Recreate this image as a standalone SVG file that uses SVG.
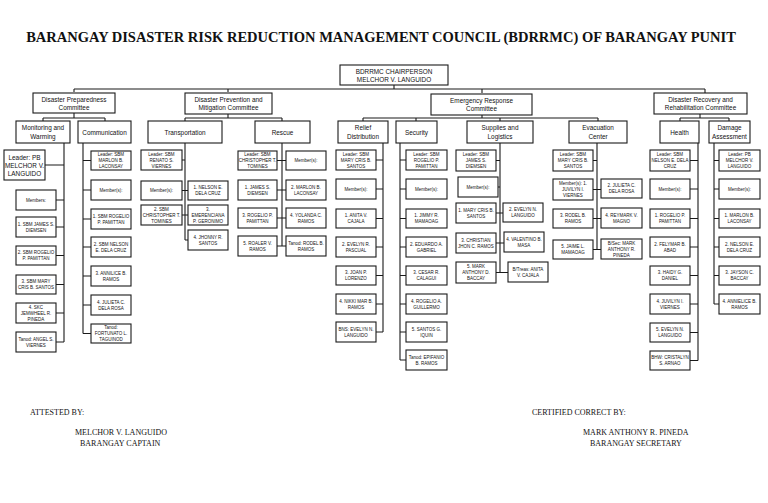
<svg xmlns="http://www.w3.org/2000/svg" width="768" height="503" viewBox="0 0 768 503">
<style>
rect{fill:#fff;stroke:#1a1a1a;stroke-width:1.1}
text{font-family:"Liberation Sans",Arial,sans-serif;fill:#111;text-anchor:middle}
.s{font-size:4.5px}
.m{font-size:7px}
.l{font-size:6.4px}
.t{font-family:"Liberation Serif","Times New Roman",serif;font-weight:bold;font-size:14.5px}
.f{font-family:"Liberation Serif","Times New Roman",serif;font-size:8px;text-anchor:start}
#c path{fill:none;stroke:#1a1a1a;stroke-width:1.1}
</style>
<rect x="0" y="0" width="768" height="503" style="stroke:none"/>
<text class="t" x="381" y="42">BARANGAY DISASTER RISK REDUCTION MANAGEMENT COUNCIL (BDRRMC) OF BARANGAY PUNIT</text>
<g id="c">
<path d="M394 85V89M74 89H705M74 89V92M228 89V92M482 89V93M705 89V93"/>
<path d="M74 113V118M43 118H105M43 118V121M105 118V121"/>
<path d="M228 114V118M185 118H282M185 118V121M282 118V121"/>
<path d="M482 115V118M363 118H598M363 118V121M416 118V121M500 118V121M598 118V121"/>
<path d="M700 114V118M680 118H729M680 118V121M729 118V121"/>
<path d="M64 143V342M45 165H64M56 200H64M56 227H64M56 255.5H64M56 284.5H64M56 313H64M56 342H64"/>
<path d="M83 143V333.5M83 160.5H91M83 190H91M83 219H91M83 247H91M83 276H91M83 305H91M83 333.5H91"/>
<path d="M185 143V240M182 160H185M182 190.5H188M182 215H188M185 240H188"/>
<path d="M282 143V246M277 160.5H286M277 190H286M277 218H286M277 246H286"/>
<path d="M383 143V332M376 160H383M376 189H383M376 218.5H383M376 247H383M376 275.5H383M376 304H383M376 332H383"/>
<path d="M400 143V360M400 160H406M400 189H406M400 218.5H406M400 247H406M400 275.5H406M400 304H406M400 332H406M400 360H406"/>
<path d="M500 143V272.5M496 160.5H500M498 187H500M496 213H503M496 243H504M496 272.5H508"/>
<path d="M597 143V249.5M593 160.5H597M593 189.5H601M593 218.5H601M593 249.5H601"/>
<path d="M698 143V360.5M690 160.5H698M690 189H698M690 218.5H698M690 247H698M690 275.5H698M690 304H698M690 332.5H698M690 360.5H698"/>
<path d="M714 143V304M714 160.5H719M714 189H719M714 218.5H719M714 247H719M714 275.5H719M714 304H719"/>
</g>
<g id="chair"><rect x="340" y="65" width="108" height="20"/><text class="l" x="394" y="73.5">BDRRMC CHAIRPERSON</text><text class="l" x="394" y="81.5">MELCHOR V. LANGUIDO</text></g>
<g id="prep"><rect x="33" y="93" width="82" height="20"/><text class="l" x="74" y="101.5">Disaster Preparedness</text><text class="l" x="74" y="109.5">Committee</text></g>
<g id="prev"><rect x="185" y="93" width="87" height="21"/><text class="l" x="228.5" y="101.5">Disaster Prevention and</text><text class="l" x="228.5" y="110">Mitigation Committee</text></g>
<g id="emer"><rect x="431" y="94" width="101" height="21"/><text class="l" x="481.5" y="102.5">Emergency Response</text><text class="l" x="481.5" y="111">Committee</text></g>
<g id="recov"><rect x="654" y="93" width="93" height="21"/><text class="l" x="700.5" y="101.5">Disaster Recovery and</text><text class="l" x="700.5" y="110">Rehabilitation Committee</text></g>
<g id="monitor"><rect x="16" y="121" width="54" height="22"/><text class="l" x="43" y="130">Monitoring and</text><text class="l" x="43" y="138.5">Warming</text></g>
<g id="comm"><rect x="78" y="121" width="53" height="22"/><text class="l" x="104.5" y="134.5">Communication</text></g>
<g id="trans"><rect x="148" y="121" width="74" height="22"/><text class="l" x="185" y="134.5">Transportation</text></g>
<g id="rescue"><rect x="255" y="121" width="55" height="22"/><text class="l" x="282.5" y="134.5">Rescue</text></g>
<g id="relief"><rect x="338" y="121" width="50" height="22"/><text class="l" x="363" y="130">Relief</text><text class="l" x="363" y="138.5">Distribution</text></g>
<g id="security"><rect x="396" y="121" width="41" height="22"/><text class="l" x="416.5" y="134.5">Security</text></g>
<g id="supplies"><rect x="467" y="121" width="66" height="22"/><text class="l" x="500" y="130">Supplies and</text><text class="l" x="500" y="138.5">Logistics</text></g>
<g id="evac"><rect x="569" y="121" width="58" height="22"/><text class="l" x="598" y="130">Evacuation</text><text class="l" x="598" y="138.5">Center</text></g>
<g id="health"><rect x="660" y="121" width="39" height="22"/><text class="l" x="679.5" y="134.5">Health</text></g>
<g id="damage"><rect x="709" y="121" width="41" height="22"/><text class="l" x="729.5" y="130">Damage</text><text class="l" x="729.5" y="138.5">Assessment</text></g>

<g id="mw0"><rect x="4" y="150" width="41" height="30"/><text class="l" x="24.5" y="159.5">Leader: PB</text><text class="l" x="24.5" y="167.5">MELCHOR V.</text><text class="l" x="24.5" y="175.5">LANGUIDO</text></g>
<g id="mw1"><rect x="16" y="190" width="40" height="20"/><text class="s" x="36" y="201.6">Members:</text></g>
<g id="mw2"><rect x="16" y="217" width="40" height="20"/><text class="s" x="36" y="225.6">1. SBM JAMES S.</text><text class="s" x="36" y="231.6">DIEMSEN</text></g>
<g id="mw3"><rect x="16" y="246" width="40" height="19"/><text class="s" x="36" y="254.1">2. SBM ROGELIO</text><text class="s" x="36" y="260.1">P. PAMITTAN</text></g>
<g id="mw4"><rect x="16" y="275" width="40" height="19"/><text class="s" x="36" y="283.1">3. SBM MARY</text><text class="s" x="36" y="289.1">CRIS B. SANTOS</text></g>
<g id="mw5"><rect x="16" y="303" width="40" height="20"/><text class="s" x="36" y="308.6">4. SKC</text><text class="s" x="36" y="314.6">JEMWHEEL R.</text><text class="s" x="36" y="320.6">PINEDA</text></g>
<g id="mw6"><rect x="16" y="332" width="40" height="20"/><text class="s" x="36" y="340.6">Tanod: ANGEL S.</text><text class="s" x="36" y="346.6">VIERNES</text></g>

<g id="cm0"><rect x="91" y="151" width="40" height="19"/><text class="s" x="111" y="156.1">Leader: SBM</text><text class="s" x="111" y="162.1">MARLON B.</text><text class="s" x="111" y="168.1">LACONSAY</text></g>
<g id="cm1"><rect x="91" y="180" width="40" height="20"/><text class="s" x="111" y="191.6">Member(s):</text></g>
<g id="cm2"><rect x="91" y="209" width="40" height="20"/><text class="s" x="111" y="217.6">1. SBM ROGELIO</text><text class="s" x="111" y="223.6">P. PAMITTAN</text></g>
<g id="cm3"><rect x="91" y="237" width="40" height="20"/><text class="s" x="111" y="245.6">2. SBM NELSON</text><text class="s" x="111" y="251.6">E. DELA CRUZ</text></g>
<g id="cm4"><rect x="91" y="266" width="40" height="20"/><text class="s" x="111" y="274.6">3. ANNILICE B.</text><text class="s" x="111" y="280.6">RAMOS</text></g>
<g id="cm5"><rect x="91" y="295" width="40" height="20"/><text class="s" x="111" y="303.6">4. JULIETA C.</text><text class="s" x="111" y="309.6">DELA ROSA</text></g>
<g id="cm6"><rect x="91" y="324" width="40" height="19"/><text class="s" x="111" y="329.1">Tanod:</text><text class="s" x="111" y="335.1">FORTUNATO L.</text><text class="s" x="111" y="341.1">TAGUINOD</text></g>

<g id="tr0"><rect x="141" y="150" width="41" height="20"/><text class="s" x="161.5" y="155.6">Leader: SBM</text><text class="s" x="161.5" y="161.6">RENATO S.</text><text class="s" x="161.5" y="167.6">VIERNES</text></g>
<g id="tr1"><rect x="141" y="181" width="41" height="19"/><text class="s" x="161.5" y="192.1">Member(s):</text></g>
<g id="tr2"><rect x="141" y="205" width="41" height="20"/><text class="s" x="161.5" y="210.6">2. SBM</text><text class="s" x="161.5" y="216.6">CHRISTOPHER T.</text><text class="s" x="161.5" y="222.6">TOMINES</text></g>
<g id="tr3"><rect x="188" y="181" width="40" height="19"/><text class="s" x="208" y="189.1">1. NELSON E.</text><text class="s" x="208" y="195.1">DELA CRUZ</text></g>
<g id="tr4"><rect x="188" y="205" width="40" height="20"/><text class="s" x="208" y="210.6">3.</text><text class="s" x="208" y="216.6">EMERENCIANA</text><text class="s" x="208" y="222.6">P. GERONIMO</text></g>
<g id="tr5"><rect x="188" y="230" width="40" height="20"/><text class="s" x="208" y="238.6">4. JHONNY R.</text><text class="s" x="208" y="244.6">SANTOS</text></g>

<g id="rs0"><rect x="238" y="151" width="39" height="19"/><text class="s" x="257.5" y="156.1">Leader: SBM</text><text class="s" x="257.5" y="162.1">CHRISTOPHER T.</text><text class="s" x="257.5" y="168.1">TOMINES</text></g>
<g id="rs1"><rect x="238" y="180" width="39" height="20"/><text class="s" x="257.5" y="188.6">1. JAMES S.</text><text class="s" x="257.5" y="194.6">DIEMSEN</text></g>
<g id="rs2"><rect x="238" y="208" width="39" height="20"/><text class="s" x="257.5" y="216.6">3. ROGELIO P.</text><text class="s" x="257.5" y="222.6">PAMITTAN</text></g>
<g id="rs3"><rect x="238" y="236" width="39" height="20"/><text class="s" x="257.5" y="244.6">5. ROALER V.</text><text class="s" x="257.5" y="250.6">RAMOS</text></g>
<g id="rs4"><rect x="286" y="151" width="40" height="19"/><text class="s" x="306" y="162.1">Member(s):</text></g>
<g id="rs5"><rect x="286" y="180" width="40" height="20"/><text class="s" x="306" y="188.6">2. MARLON B.</text><text class="s" x="306" y="194.6">LACONSAY</text></g>
<g id="rs6"><rect x="286" y="208" width="40" height="20"/><text class="s" x="306" y="216.6">4. YOLANDA C.</text><text class="s" x="306" y="222.6">RAMOS</text></g>
<g id="rs7"><rect x="286" y="236" width="40" height="20"/><text class="s" x="306" y="244.6">Tanod: RODEL B.</text><text class="s" x="306" y="250.6">RAMOS</text></g>

<g id="rd0"><rect x="336" y="150" width="40" height="20"/><text class="s" x="356" y="155.6">Leader: SBM</text><text class="s" x="356" y="161.6">MARY CRIS B.</text><text class="s" x="356" y="167.6">SANTOS</text></g>
<g id="rd1"><rect x="336" y="179" width="40" height="20"/><text class="s" x="356" y="190.6">Member(s):</text></g>
<g id="rd2"><rect x="336" y="209" width="40" height="19"/><text class="s" x="356" y="217.1">1. ANITA V.</text><text class="s" x="356" y="223.1">CAJALA</text></g>
<g id="rd3"><rect x="336" y="237" width="40" height="20"/><text class="s" x="356" y="245.6">2. EVELYN R.</text><text class="s" x="356" y="251.6">PASCUAL</text></g>
<g id="rd4"><rect x="336" y="266" width="40" height="19"/><text class="s" x="356" y="274.1">3. JOAN P.</text><text class="s" x="356" y="280.1">LORENZO</text></g>
<g id="rd5"><rect x="336" y="294" width="40" height="20"/><text class="s" x="356" y="302.6">4. NIKKI MAR B.</text><text class="s" x="356" y="308.6">RAMOS</text></g>
<g id="rd6"><rect x="336" y="322" width="40" height="20"/><text class="s" x="356" y="330.6">BNS: EVELYN N.</text><text class="s" x="356" y="336.6">LANGUIDO</text></g>

<g id="sc0"><rect x="406" y="150" width="41" height="20"/><text class="s" x="426.5" y="155.6">Leader: SBM</text><text class="s" x="426.5" y="161.6">ROGELIO P.</text><text class="s" x="426.5" y="167.6">PAMITTAN</text></g>
<g id="sc1"><rect x="406" y="179" width="41" height="20"/><text class="s" x="426.5" y="190.6">Member(s):</text></g>
<g id="sc2"><rect x="406" y="209" width="41" height="19"/><text class="s" x="426.5" y="217.1">1. JIMMY R.</text><text class="s" x="426.5" y="223.1">MAMAOAG</text></g>
<g id="sc3"><rect x="406" y="237" width="41" height="20"/><text class="s" x="426.5" y="245.6">2. EDUARDO A.</text><text class="s" x="426.5" y="251.6">GABRIEL</text></g>
<g id="sc4"><rect x="406" y="266" width="41" height="19"/><text class="s" x="426.5" y="274.1">3. CESAR R.</text><text class="s" x="426.5" y="280.1">CALAGUI</text></g>
<g id="sc5"><rect x="406" y="294" width="41" height="20"/><text class="s" x="426.5" y="302.6">4. ROGELIO A.</text><text class="s" x="426.5" y="308.6">GUILLERMO</text></g>
<g id="sc6"><rect x="406" y="322" width="41" height="20"/><text class="s" x="426.5" y="330.6">5. SANTOS G.</text><text class="s" x="426.5" y="336.6">IQUIN</text></g>
<g id="sc7"><rect x="406" y="350" width="41" height="20"/><text class="s" x="426.5" y="358.6">Tanod: EPIFANIO</text><text class="s" x="426.5" y="364.6">B. RAMOS</text></g>

<g id="sp0"><rect x="456" y="150" width="40" height="21"/><text class="s" x="476" y="156.1">Leader: SBM</text><text class="s" x="476" y="162.1">JAMES S.</text><text class="s" x="476" y="168.1">DIEMSEN</text></g>
<g id="sp1"><rect x="458" y="177" width="40" height="20"/><text class="s" x="478" y="188.6">Member(s):</text></g>
<g id="sp2"><rect x="456" y="203" width="40" height="20"/><text class="s" x="476" y="211.6">1. MARY CRIS B.</text><text class="s" x="476" y="217.6">SANTOS</text></g>
<g id="sp3"><rect x="456" y="233" width="40" height="20"/><text class="s" x="476" y="241.6">3. CHRISTIAN</text><text class="s" x="476" y="247.6">JHON C. RAMOS</text></g>
<g id="sp4"><rect x="456" y="262" width="40" height="21"/><text class="s" x="476" y="268.1">5. MARK</text><text class="s" x="476" y="274.1">ANTHONY D.</text><text class="s" x="476" y="280.1">BACCAY</text></g>
<g id="sp5"><rect x="503" y="203" width="40" height="19"/><text class="s" x="523" y="211.1">2. EVELYN N.</text><text class="s" x="523" y="217.1">LANGUIDO</text></g>
<g id="sp6"><rect x="504" y="232" width="40" height="20"/><text class="s" x="524" y="240.6">4. VALENTINO B.</text><text class="s" x="524" y="246.6">MASA</text></g>
<g id="sp7"><rect x="508" y="262" width="40" height="20"/><text class="s" x="528" y="270.6">B/Treas: ANITA</text><text class="s" x="528" y="276.6">V. CAJALA</text></g>

<g id="ev0"><rect x="553" y="150" width="40" height="21"/><text class="s" x="573" y="156.1">Leader: SBM</text><text class="s" x="573" y="162.1">MARY CRIS B.</text><text class="s" x="573" y="168.1">SANTOS</text></g>
<g id="ev1"><rect x="553" y="179" width="40" height="21"/><text class="s" x="573" y="185.1">Member(s): 1.</text><text class="s" x="573" y="191.1">JUVILYN I.</text><text class="s" x="573" y="197.1">VIERNES</text></g>
<g id="ev2"><rect x="553" y="209" width="40" height="19"/><text class="s" x="573" y="217.1">3. RODEL B.</text><text class="s" x="573" y="223.1">RAMOS</text></g>
<g id="ev3"><rect x="553" y="240" width="40" height="19"/><text class="s" x="573" y="248.1">5. JAIME L.</text><text class="s" x="573" y="254.1">MAMAOAG</text></g>
<g id="ev4"><rect x="601" y="179" width="41" height="19"/><text class="s" x="621.5" y="187.1">2. JULIETA C.</text><text class="s" x="621.5" y="193.1">DELA ROSA</text></g>
<g id="ev5"><rect x="601" y="208" width="41" height="20"/><text class="s" x="621.5" y="216.6">4. REYMARK V.</text><text class="s" x="621.5" y="222.6">MAGNO</text></g>
<g id="ev6"><rect x="601" y="239" width="41" height="20"/><text class="s" x="621.5" y="244.6">B/Sec: MARK</text><text class="s" x="621.5" y="250.6">ANTHONY R.</text><text class="s" x="621.5" y="256.6">PINEDA</text></g>

<g id="he0"><rect x="650" y="150" width="40" height="21"/><text class="s" x="670" y="156.1">Leader: SBM</text><text class="s" x="670" y="162.1">NELSON E. DELA</text><text class="s" x="670" y="168.1">CRUZ</text></g>
<g id="he1"><rect x="650" y="179" width="40" height="20"/><text class="s" x="670" y="190.6">Member(s):</text></g>
<g id="he2"><rect x="650" y="209" width="40" height="19"/><text class="s" x="670" y="217.1">1. ROGELIO P.</text><text class="s" x="670" y="223.1">PAMITTAN</text></g>
<g id="he3"><rect x="650" y="237" width="40" height="20"/><text class="s" x="670" y="245.6">2. FELYMAR B.</text><text class="s" x="670" y="251.6">ABAD</text></g>
<g id="he4"><rect x="650" y="266" width="40" height="19"/><text class="s" x="670" y="274.1">3. HAIDY G.</text><text class="s" x="670" y="280.1">DANIEL</text></g>
<g id="he5"><rect x="650" y="294" width="40" height="20"/><text class="s" x="670" y="302.6">4. JUVILYN I.</text><text class="s" x="670" y="308.6">VIERNES</text></g>
<g id="he6"><rect x="650" y="323" width="40" height="19"/><text class="s" x="670" y="331.1">5. EVELYN N.</text><text class="s" x="670" y="337.1">LANGUIDO</text></g>
<g id="he7"><rect x="650" y="351" width="40" height="19"/><text class="s" x="670" y="359.1">BHW: CRISTALYN</text><text class="s" x="670" y="365.1">S. ARNAO</text></g>

<g id="da0"><rect x="719" y="150" width="41" height="21"/><text class="s" x="739.5" y="156.1">Leader: PB</text><text class="s" x="739.5" y="162.1">MELCHOR V.</text><text class="s" x="739.5" y="168.1">LANGUIDO</text></g>
<g id="da1"><rect x="719" y="179" width="41" height="20"/><text class="s" x="739.5" y="190.6">Member(s):</text></g>
<g id="da2"><rect x="719" y="209" width="41" height="19"/><text class="s" x="739.5" y="217.1">1. MARLON B.</text><text class="s" x="739.5" y="223.1">LACONSAY</text></g>
<g id="da3"><rect x="719" y="237" width="41" height="20"/><text class="s" x="739.5" y="245.6">2. NELSON E.</text><text class="s" x="739.5" y="251.6">DELA CRUZ</text></g>
<g id="da4"><rect x="719" y="266" width="41" height="19"/><text class="s" x="739.5" y="274.1">3. JAYSON C.</text><text class="s" x="739.5" y="280.1">BACCAY</text></g>
<g id="da5"><rect x="719" y="294" width="41" height="20"/><text class="s" x="739.5" y="302.6">4. ANNIELICE B.</text><text class="s" x="739.5" y="308.6">RAMOS</text></g>

<g id="sign">
<text class="f" x="30" y="415">ATTESTED BY:</text>
<text class="f" x="75" y="435">MELCHOR V. LANGUIDO</text>
<text class="f" x="80" y="446">BARANGAY CAPTAIN</text>
<text class="f" x="532" y="415">CERTIFIED CORRECT BY:</text>
<text class="f" x="583" y="435">MARK ANTHONY R. PINEDA</text>
<text class="f" x="590" y="446">BARANGAY SECRETARY</text>
</g>
</svg>
